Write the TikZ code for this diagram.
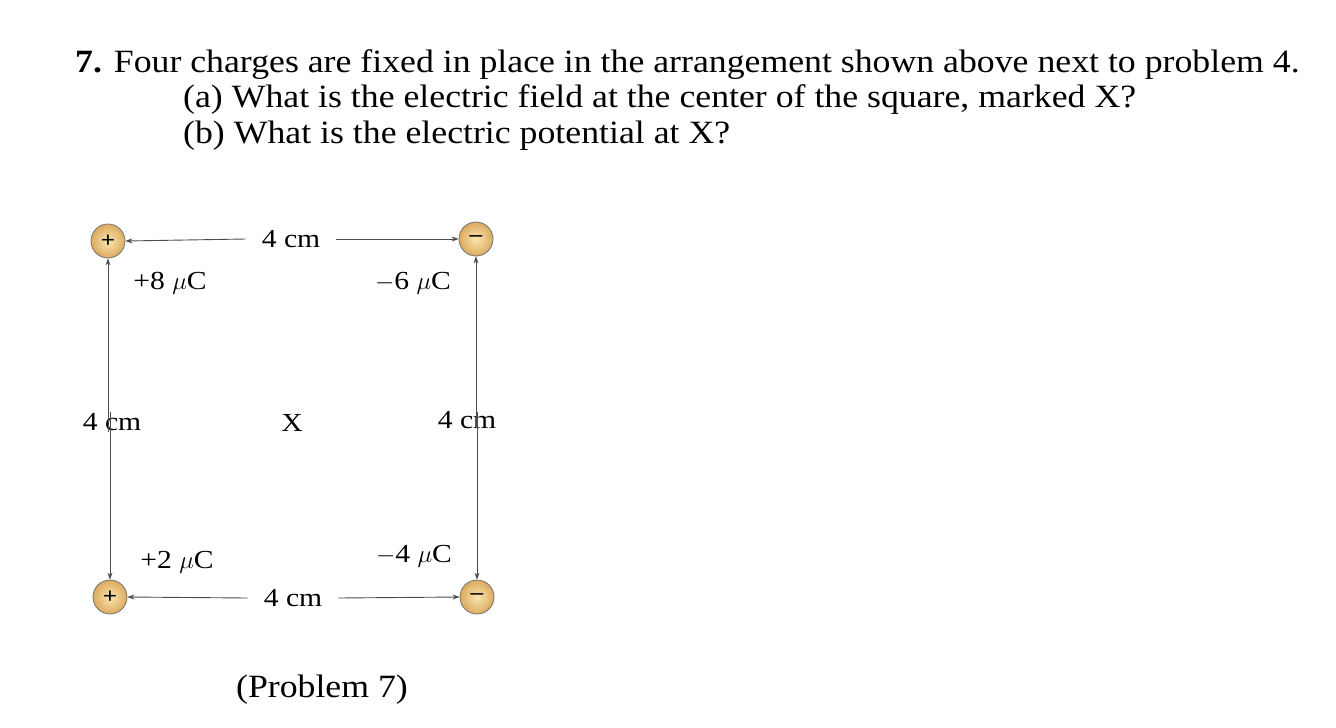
\documentclass[tikz,border=0pt]{standalone}
\usepackage{fontspec}
\usetikzlibrary{arrows.meta}
\setmainfont{Liberation Serif}[FakeStretch=1.14]
\newfontfamily\hdr{Liberation Serif}[FakeStretch=1.1]
\begin{document}
\begin{tikzpicture}[x=1pt,y=-1pt,
  charge/.style={circle,minimum size=34pt,inner sep=0pt,draw=black!55,line width=0.8pt,
    inner color={rgb,255:red,250;green,230;blue,175},outer color={rgb,255:red,220;green,170;blue,95},
    font=\fontsize{22}{22}\selectfont\bfseries},
  dim/.style={draw=black!70,line width=0.9pt,-{Stealth[length=7pt,width=5pt]}},
  lab/.style={font=\fontsize{26}{26}\selectfont,inner sep=1pt},
  hd/.style={font=\hdr\fontsize{32.5}{32.5}\selectfont,anchor=base west,inner sep=0pt}]
\useasboundingbox (0,0) rectangle (1336,728);
\node[hd] (t1) at (75,72) {\textbf{7.} Four charges are fixed in place in the arrangement shown above next to problem 4.};
\node[hd] (t2) at (183,107) {(a) What is the electric field at the center of the square, marked X?};
\node[hd] (t3) at (183,143) {(b) What is the electric potential at X?};
\node[charge] (q1) at (108,241) {+};
\node[charge] (q2) at (476,239) {\textendash};
\node[charge] (q3) at (110,597) {+};
\node[charge] (q4) at (477,597) {\textendash};
\node[lab,inner xsep=16pt] (dt) at (291,239) {4 cm};
\node[lab,inner xsep=16pt] (db) at (293,598) {4 cm};
\node[lab] (dl) at (112,422) {4 cm};
\node[lab] (dr) at (467,420) {4 cm};
\node[lab] (x) at (292,423) {X};
\node[lab] (l1) at (170,283) {+8 $\mu$C};
\node[lab] (l2) at (413,283) {$-$6 $\mu$C};
\node[lab] (l3) at (177,562) {+2 $\mu$C};
\node[lab] (l4) at (414,556) {$-$4 $\mu$C};
\draw[dim] (dt.west) -- (q1.east);
\draw[dim] (dt.east) -- (q2.west);
\draw[dim] (db.west) -- (q3.east);
\draw[dim] (db.east) -- (q4.west);
\draw[dim] ([yshift=-20]dl.north -| q1) -- (q1.south);
\draw[dim] ([yshift=20]dl.south -| q3) -- (q3.north);
\draw[dim] ([yshift=-18]dr.north -| q2) -- (q2.south);
\draw[dim] ([yshift=18]dr.south -| q4) -- (q4.north);
\node[hd,anchor=base] (p) at (322,697) {(Problem 7)};
\end{tikzpicture}
\end{document}
